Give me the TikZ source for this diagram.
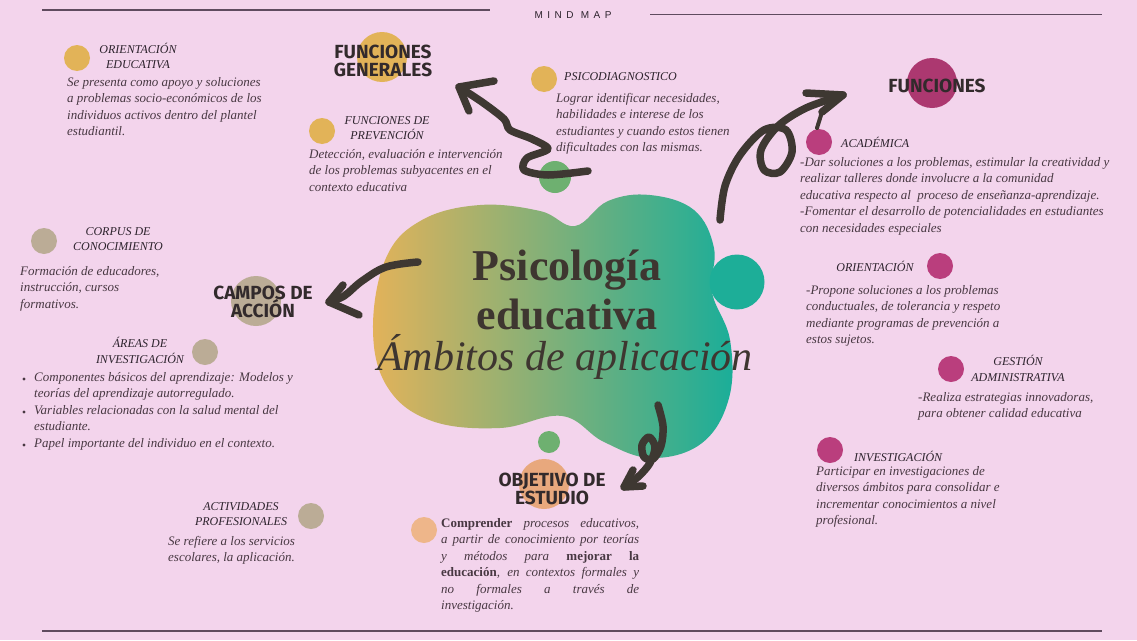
\documentclass[tikz,border=0pt]{standalone}
\usepackage{fontspec}
\setmainfont{Liberation Serif}
\newfontfamily\handf{Fira Sans}
\newfontfamily\spacedf{Liberation Sans}[LetterSpace=45]
\definecolor{bg}{RGB}{243,212,236}
\definecolor{rulec}{RGB}{95,75,95}
\definecolor{bodyc}{RGB}{72,56,66}
\definecolor{ttlc}{RGB}{45,35,45}
\definecolor{headc}{RGB}{50,42,44}
\definecolor{brushc}{RGB}{62,56,50}
\definecolor{gold}{RGB}{226,179,88}
\definecolor{magenta}{RGB}{186,62,125}
\definecolor{magdark}{RGB}{172,56,112}
\definecolor{taupe}{RGB}{187,172,150}
\definecolor{tealc}{RGB}{29,174,152}
\definecolor{greenc}{RGB}{110,176,112}
\definecolor{peach}{RGB}{238,182,138}
\definecolor{peachd}{RGB}{232,168,125}
\definecolor{blobL}{RGB}{226,178,90}
\definecolor{blobR}{RGB}{26,174,153}
\definecolor{titlec}{RGB}{62,54,48}
\tikzset{
  body/.style={anchor=north west, inner sep=0pt, align=left, text=bodyc, font=\fontsize{13}{16.5}\selectfont\itshape},
  ttl/.style={anchor=north, inner sep=0pt, align=center, text=ttlc, font=\fontsize{12}{15.5}\selectfont\itshape},
  ttll/.style={ttl, anchor=north west, align=left},
  head/.style={align=center, inner sep=0pt, text=headc, font=\handf\bfseries\fontsize{19}{18.5}\selectfont},
  dot/.style={circle, inner sep=0pt, minimum size=26pt},
  bigdot/.style={circle, inner sep=0pt, minimum size=50pt},
  brush/.style={draw=brushc, line width=7.5pt, line cap=round, line join=round},
  rulel/.style={draw=rulec, line width=1.5pt}
}
\begin{document}
\begin{tikzpicture}[x=1pt,y=-1pt]
\fill[bg] (0,0) rectangle (1137,640);
\useasboundingbox (0,0) rectangle (1137,640);

% rules
\coordinate (r1a) at (42,10); \coordinate (r1b) at (490,10);
\coordinate (r2a) at (650,14.5); \coordinate (r2b) at (1102,14.5);
\coordinate (r3a) at (42,631); \coordinate (r3b) at (1102,631);
\draw[rulel] (r1a) -- (r1b);
\draw[rulel] (r2a) -- (r2b);
\draw[rulel] (r3a) -- (r3b);
\node[inner sep=0pt, text=ttlc, font=\spacedf\fontsize{10}{10}\selectfont] (mm) at (573,15) {MIND MAP};

% central blob
\path[left color=blobL, right color=blobR] plot[smooth cycle, tension=0.65] coordinates {
 (373,330) (386,258) (422,220) (480,205) (540,211) (575,226) (608,201) (650,195) (694,210) (714,248) (712,292)
 (730,340) (729,398) (702,443) (652,458) (604,442) (562,416) (500,428) (432,421) (388,388)};
\node[inner sep=0pt, text=titlec, font=\bfseries\fontsize{44}{44}\selectfont] (t1) at (567,270) {Psicología};
\node[inner sep=0pt, text=titlec, font=\bfseries\fontsize{44}{44}\selectfont] (t2) at (567,314) {educativa};
\node[inner sep=0pt, text=titlec, font=\itshape\fontsize{42}{42}\selectfont] (t3) at (565,357) {Ámbitos de aplicación};

% decorative circles
\node[circle, inner sep=0pt, minimum size=55pt, fill=tealc] (teal) at (737,282) {};
\node[circle, inner sep=0pt, minimum size=32pt, fill=greenc] (g1) at (555,177) {};
\node[circle, inner sep=0pt, minimum size=22pt, fill=greenc] (g2) at (549,442) {};

% ---- FUNCIONES GENERALES ----
\node[bigdot, fill=gold] (fgc) at (382,57) {};
\node[head] (fg) at (383,61) {FUNCIONES\\GENERALES};

\node[dot, fill=gold] (oec) at (77,58) {};
\node[ttl] (oet) at (138,43) {ORIENTACIÓN\\EDUCATIVA};
\node[body] (oeb) at (67,77) {Se presenta como apoyo y soluciones\\a problemas socio-económicos de los\\individuos activos dentro del plantel\\estudiantil.};

\node[dot, fill=gold] (fpc) at (322,131) {};
\node[ttl] (fpt) at (387,116) {FUNCIONES DE\\PREVENCIÓN};
\node[body] (fpb) at (309,149) {Detección, evaluación e intervención\\de los problemas subyacentes en el\\contexto educativa};

\node[dot, fill=gold] (psc) at (544,79) {};
\node[ttll] (pst) at (564,72) {PSICODIAGNOSTICO};
\node[body] (psb) at (556,93) {Lograr identificar necesidades,\\habilidades e interese de los\\estudiantes y cuando estos tienen\\dificultades con las mismas.};

% squiggle arrow to FUNCIONES GENERALES
\coordinate (a1s) at (588,171);
\coordinate (a1t) at (459,87);
\draw[brush] plot[smooth, tension=0.5] coordinates {(a1s) (548,175) (524,170) (527,158) (548,149) (532,139) (510,130) (504,119) (482,102) (a1t)};
\draw[brush] (494,81) -- (a1t) -- (469,111);

% ---- FUNCIONES (right) ----
\node[bigdot, fill=magdark] (fnc) at (932,83) {};
\node[head] (fn) at (937,86) {FUNCIONES};

\node[dot, fill=magenta] (acc) at (819,142) {};
\node[ttll] (act) at (841,137) {ACADÉMICA};
\node[body] (acb) at (800,157) {-Dar soluciones a los problemas, estimular la creatividad y\\realizar talleres donde involucre a la comunidad\\educativa respecto al\ \ proceso de enseñanza-aprendizaje.\\-Fomentar el desarrollo de potencialidades en estudiantes\\con necesidades especiales};

\node[dot, fill=magenta] (orc) at (940,266) {};
\node[ttl] (ort) at (875,261) {ORIENTACIÓN};
\node[body] (orb) at (806,285) {-Propone soluciones a los problemas\\conductuales, de tolerancia y respeto\\mediante programas de prevención a\\estos sujetos.};

\node[dot, fill=magenta] (gac) at (951,369) {};
\node[ttl] (gat) at (1018,355) {GESTIÓN\\ADMINISTRATIVA};
\node[body] (gab) at (918,392) {-Realiza estrategias innovadoras,\\para obtener calidad educativa};

\node[dot, fill=magenta] (ivc) at (830,450) {};
\node[ttll] (ivt) at (854,451) {INVESTIGACIÓN};
\node[body] (ivb) at (816,466) {Participar en investigaciones de\\diversos ámbitos para consolidar e\\incrementar conocimientos a nivel\\profesional.};

% arrow to FUNCIONES
\coordinate (a2s) at (720,220);
\coordinate (a2t) at (843,95);
\draw[brush] plot[smooth, tension=0.55] coordinates {(a2s) (725,186) (740,155) (764,130) (786,130) (792,152) (780,172) (764,170) (761,150) (778,126) (806,108) (a2t)};
\draw[brush] (806,93) -- (a2t) -- (822,112);
\draw[draw=brushc, line width=4pt, line cap=round] (822,112) -- (817,128);

% ---- CAMPOS DE ACCION ----
\node[bigdot, fill=taupe] (cac) at (256,301) {};
\node[head] (ca) at (263,302) {CAMPOS DE\\ACCIÓN};

\node[dot, fill=taupe] (coc) at (44,241) {};
\node[ttl] (cot) at (118,227) {CORPUS DE\\CONOCIMIENTO};
\node[body] (cob) at (20,266) {Formación de educadores,\\instrucción, cursos\\formativos.};

\node[dot, fill=taupe] (arc) at (205,352) {};
\node[ttl] (art) at (140,337) {ÁREAS DE\\INVESTIGACIÓN};
\node[body] (arb) at (34,372) {Componentes básicos del aprendizaje: Modelos y\\teorías del aprendizaje autorregulado.\\Variables relacionadas con la salud mental del\\estudiante.\\Papel importante del individuo en el contexto.};
\fill[bodyc] (24,379) circle (1.6pt) (24,412) circle (1.6pt) (24,445) circle (1.6pt);

\node[dot, fill=taupe] (apc) at (311,516) {};
\node[ttl] (apt) at (241,502) {ACTIVIDADES\\PROFESIONALES};
\node[body] (apb) at (168,536) {Se refiere a los servicios\\escolares, la aplicación.};

% arrow to CAMPOS DE ACCION
\coordinate (a3s) at (418,262);
\coordinate (a3t) at (329,302);
\draw[brush] plot[smooth, tension=0.6] coordinates {(a3s) (386,267) (362,281) (344,296) (a3t)};
\draw[brush] (343,285) -- (a3t) -- (359,315);

% ---- OBJETIVO DE ESTUDIO ----
\node[bigdot, fill=peachd] (obc) at (544,484) {};
\node[head] (ob) at (552,489) {OBJETIVO DE\\ESTUDIO};

\node[dot, fill=peach] (cmc) at (424,530) {};
\node[body] (cmb) at (441,518) {\makebox[198pt][s]{{\upshape\bfseries Comprender} procesos educativos,}\\
\makebox[198pt][s]{a partir de conocimiento por teorías}\\
\makebox[198pt][s]{y métodos para {\upshape\bfseries mejorar} {\upshape\bfseries la}}\\
\makebox[198pt][s]{{\upshape\bfseries educación}, en contextos formales y}\\
\makebox[198pt][s]{no formales a través de}\\
investigación.};

% arrow to OBJETIVO DE ESTUDIO
\coordinate (a4s) at (658,405);
\coordinate (a4t) at (624,487);
\draw[brush] plot[smooth, tension=0.55] coordinates {(a4s) (663,426) (661,446) (653,459) (644,457) (642,445) (649,437) (655,447) (650,463) (638,477) (a4t)};
\draw[brush] (633,470) -- (a4t) -- (643,486);
\end{tikzpicture}
\end{document}
